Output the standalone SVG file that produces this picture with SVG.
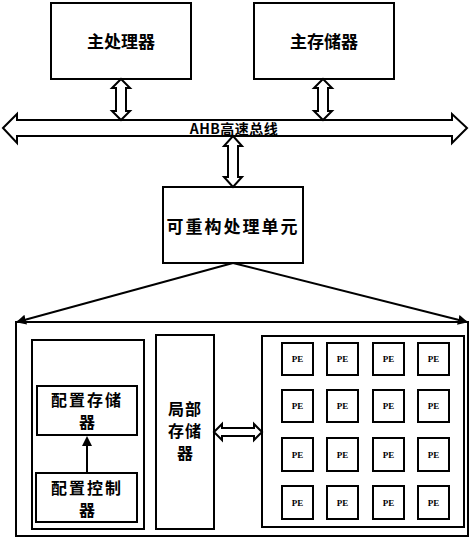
<svg xmlns="http://www.w3.org/2000/svg" width="474" height="541" viewBox="0 0 474 541">
<style>
.box{fill:#fff;stroke:#000;stroke-width:2}
.arr{fill:#fff;stroke:#000;stroke-width:2;stroke-linejoin:miter}
.t{font-family:"Noto Sans CJK SC","Noto Sans",sans-serif;font-weight:bold;fill:#000;text-anchor:middle;dominant-baseline:central}
.pe{font-family:"Liberation Serif",serif;font-weight:bold;font-size:9px;fill:#000;text-anchor:middle;dominant-baseline:central}
.ln{stroke:#000;stroke-width:2;fill:none}
</style>
<defs>
<marker id="ah" viewBox="0 0 10 10" refX="9" refY="5" markerWidth="5" markerHeight="5" orient="auto" markerUnits="strokeWidth">
<path d="M0,0 L10,5 L0,10 z" fill="#000"/>
</marker>
</defs>
<rect width="474" height="541" fill="#fff"/>
<g id="main-processor">
<rect class="box" x="51" y="3" width="140" height="76"/>
<text class="t" x="121" y="40" font-size="17">主处理器</text>
</g>
<g id="main-memory">
<rect class="box" x="254" y="3" width="140" height="76"/>
<text class="t" x="324" y="40" font-size="17">主存储器</text>
</g>
<g id="ahb-bus">
<polygon class="arr" points="3,128 17,114 17,120 452,120 452,114 467,128 452,143 452,136 17,136 17,143"/>
<text class="t" x="234" y="128" font-size="14" letter-spacing="0.5">AHB高速总线</text>
</g>
<g id="reconfig-unit">
<rect class="box" x="163" y="187" width="140" height="76"/>
<text class="t" x="233" y="225" font-size="17" letter-spacing="2">可重构处理单元</text>
</g>
<g id="outer-box">
<rect class="box" x="16" y="322" width="452" height="214"/>
</g>
<g id="config-group">
<rect class="box" x="32" y="340" width="112" height="189"/>
</g>
<g id="config-memory">
<rect class="box" x="37" y="386" width="100" height="49"/>
<text class="t" x="87" y="399" font-size="16" letter-spacing="2">配置存储</text>
<text class="t" x="87" y="421" font-size="16">器</text>
</g>
<g id="config-controller">
<rect class="box" x="36" y="473" width="101" height="49"/>
<text class="t" x="87" y="487" font-size="16" letter-spacing="2">配置控制</text>
<text class="t" x="87" y="509" font-size="16">器</text>
</g>
<g id="local-memory">
<rect class="box" x="156" y="335" width="58" height="194"/>
<text class="t" x="185" y="408" font-size="16" letter-spacing="1">局部</text>
<text class="t" x="185" y="430" font-size="16" letter-spacing="1">存储</text>
<text class="t" x="185" y="452" font-size="16">器</text>
</g>
<g id="pe-array">
<rect class="box" x="262" y="336" width="202" height="191"/>
</g>
<g id="pes">
<rect class="box" x="282" y="343" width="31" height="32"/><text class="pe" x="297.5" y="359">PE</text>
<rect class="box" x="327" y="343" width="31" height="32"/><text class="pe" x="342.5" y="359">PE</text>
<rect class="box" x="373" y="343" width="31" height="32"/><text class="pe" x="388.5" y="359">PE</text>
<rect class="box" x="418" y="343" width="31" height="32"/><text class="pe" x="433.5" y="359">PE</text>
<rect class="box" x="282" y="390" width="31" height="32"/><text class="pe" x="297.5" y="406">PE</text>
<rect class="box" x="327" y="390" width="31" height="32"/><text class="pe" x="342.5" y="406">PE</text>
<rect class="box" x="373" y="390" width="31" height="32"/><text class="pe" x="388.5" y="406">PE</text>
<rect class="box" x="418" y="390" width="31" height="32"/><text class="pe" x="433.5" y="406">PE</text>
<rect class="box" x="282" y="438" width="31" height="33"/><text class="pe" x="297.5" y="454.5">PE</text>
<rect class="box" x="327" y="438" width="31" height="33"/><text class="pe" x="342.5" y="454.5">PE</text>
<rect class="box" x="373" y="438" width="31" height="33"/><text class="pe" x="388.5" y="454.5">PE</text>
<rect class="box" x="418" y="438" width="31" height="33"/><text class="pe" x="433.5" y="454.5">PE</text>
<rect class="box" x="282" y="486" width="31" height="33"/><text class="pe" x="297.5" y="502.5">PE</text>
<rect class="box" x="327" y="486" width="31" height="33"/><text class="pe" x="342.5" y="502.5">PE</text>
<rect class="box" x="373" y="486" width="31" height="33"/><text class="pe" x="388.5" y="502.5">PE</text>
<rect class="box" x="418" y="486" width="31" height="33"/><text class="pe" x="433.5" y="502.5">PE</text>
</g>
<g id="connectors">
<polygon class="arr" points="121,79 130,88 126,88 126,111 130,111 121,120 112,111 116,111 116,88 112,88"/>
<polygon class="arr" points="323,79 332,88 328,88 328,111 332,111 323,120 314,111 318,111 318,88 314,88"/>
<polygon class="arr" points="233,136 242,146 238,146 238,177 242,177 233,187 224,177 228,177 228,146 224,146"/>
<polygon class="arr" points="214,432 222,424 222,428 254,428 254,424 262,432 254,440 254,436 222,436 222,440"/>
<line class="ln" x1="233" y1="263" x2="17" y2="322" marker-end="url(#ah)"/>
<line class="ln" x1="233" y1="263" x2="467" y2="322" marker-end="url(#ah)"/>
<line class="ln" x1="87" y1="473" x2="87" y2="444"/>
<polygon points="87,436 92,446 82,446" fill="#000"/>
</g>
</svg>
